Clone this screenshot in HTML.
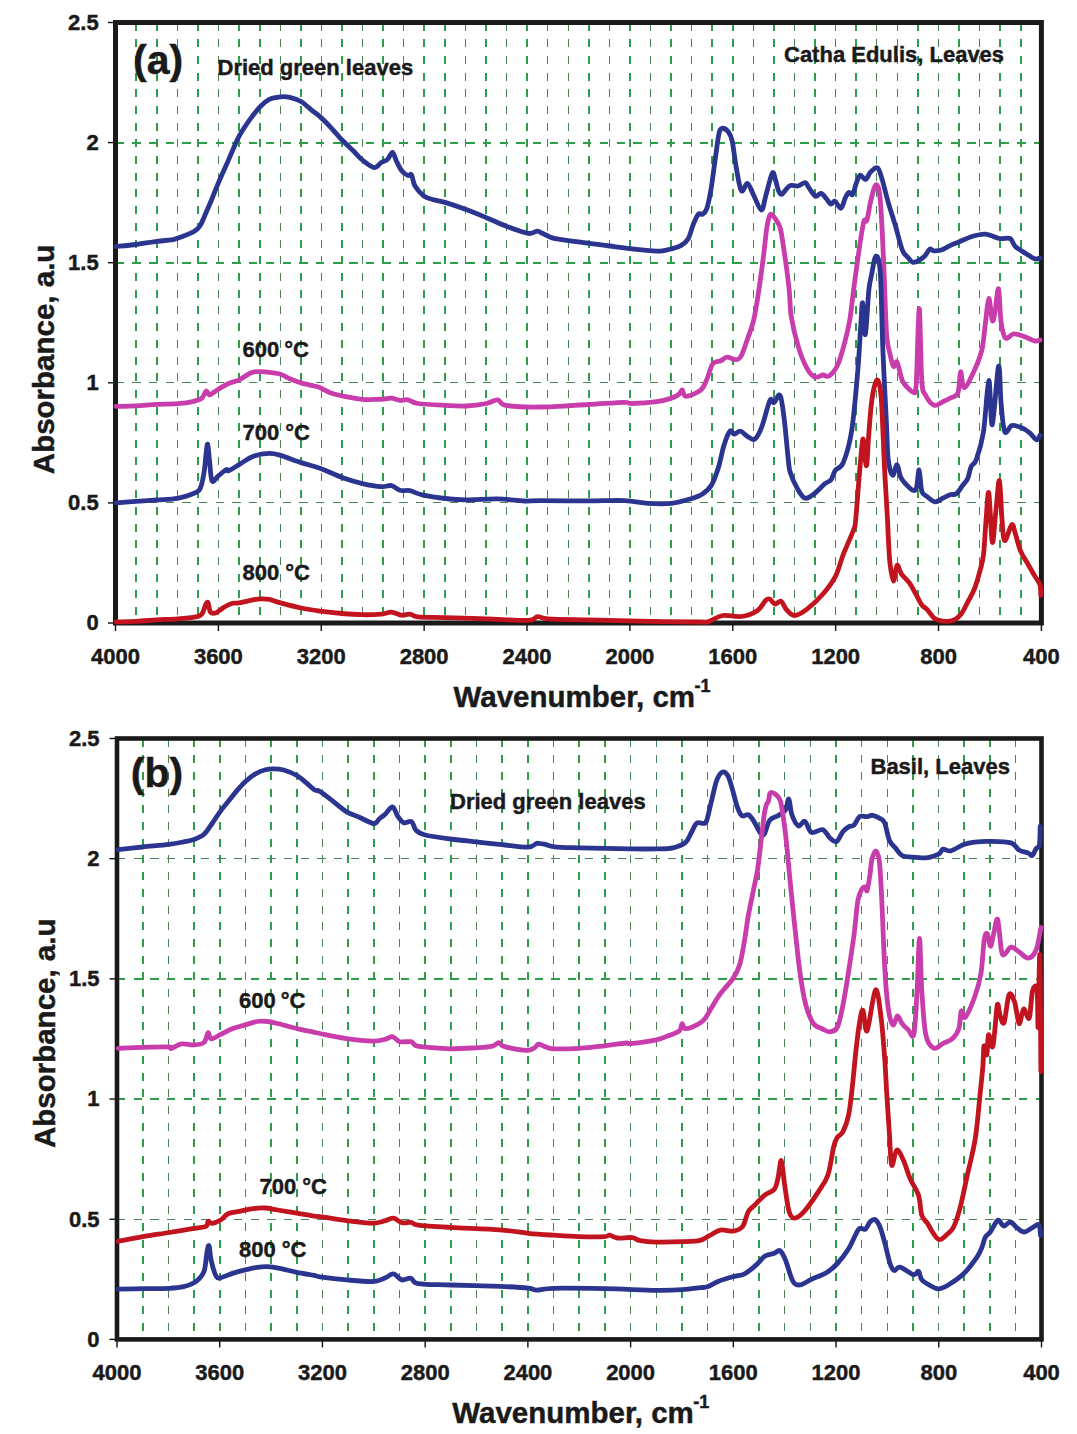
<!DOCTYPE html>
<html><head><meta charset="utf-8"><style>
html,body{margin:0;padding:0;background:#fff;overflow:hidden;}
svg{display:block;}
text{font-family:"Liberation Sans", sans-serif;font-weight:bold;fill:#1a1a1a;stroke:#1a1a1a;stroke-width:0.45px;}
.t{font-size:22px;}
.m{font-size:22px;}
.big{font-size:41px;}
.L{font-size:29.5px;}
</style></head><body>
<svg width="1077" height="1434" viewBox="0 0 1077 1434">
<line x1="136" y1="22.50" x2="136" y2="623.00" stroke="#2e9e4c" stroke-width="2" stroke-dasharray="8 8.7" shape-rendering="crispEdges"/>
<line x1="157" y1="22.50" x2="157" y2="623.00" stroke="#2e9e4c" stroke-width="2" stroke-dasharray="8 8.7" shape-rendering="crispEdges"/>
<line x1="177.5" y1="22.50" x2="177.5" y2="623.00" stroke="#4d8259" stroke-width="1" stroke-dasharray="8 8.7" shape-rendering="crispEdges"/>
<line x1="198" y1="22.50" x2="198" y2="623.00" stroke="#2e9e4c" stroke-width="2" stroke-dasharray="8 8.7" shape-rendering="crispEdges"/>
<line x1="218.5" y1="22.50" x2="218.5" y2="623.00" stroke="#4d8259" stroke-width="1" stroke-dasharray="8 8.7" shape-rendering="crispEdges"/>
<line x1="239" y1="22.50" x2="239" y2="623.00" stroke="#2e9e4c" stroke-width="2" stroke-dasharray="8 8.7" shape-rendering="crispEdges"/>
<line x1="260" y1="22.50" x2="260" y2="623.00" stroke="#2e9e4c" stroke-width="2" stroke-dasharray="8 8.7" shape-rendering="crispEdges"/>
<line x1="280.5" y1="22.50" x2="280.5" y2="623.00" stroke="#4d8259" stroke-width="1" stroke-dasharray="8 8.7" shape-rendering="crispEdges"/>
<line x1="301" y1="22.50" x2="301" y2="623.00" stroke="#2e9e4c" stroke-width="2" stroke-dasharray="8 8.7" shape-rendering="crispEdges"/>
<line x1="321.5" y1="22.50" x2="321.5" y2="623.00" stroke="#4d8259" stroke-width="1" stroke-dasharray="8 8.7" shape-rendering="crispEdges"/>
<line x1="342" y1="22.50" x2="342" y2="623.00" stroke="#2e9e4c" stroke-width="2" stroke-dasharray="8 8.7" shape-rendering="crispEdges"/>
<line x1="362.5" y1="22.50" x2="362.5" y2="623.00" stroke="#4d8259" stroke-width="1" stroke-dasharray="8 8.7" shape-rendering="crispEdges"/>
<line x1="383" y1="22.50" x2="383" y2="623.00" stroke="#2e9e4c" stroke-width="2" stroke-dasharray="8 8.7" shape-rendering="crispEdges"/>
<line x1="403.5" y1="22.50" x2="403.5" y2="623.00" stroke="#4d8259" stroke-width="1" stroke-dasharray="8 8.7" shape-rendering="crispEdges"/>
<line x1="424" y1="22.50" x2="424" y2="623.00" stroke="#2e9e4c" stroke-width="2" stroke-dasharray="8 8.7" shape-rendering="crispEdges"/>
<line x1="445" y1="22.50" x2="445" y2="623.00" stroke="#2e9e4c" stroke-width="2" stroke-dasharray="8 8.7" shape-rendering="crispEdges"/>
<line x1="465.5" y1="22.50" x2="465.5" y2="623.00" stroke="#4d8259" stroke-width="1" stroke-dasharray="8 8.7" shape-rendering="crispEdges"/>
<line x1="486" y1="22.50" x2="486" y2="623.00" stroke="#2e9e4c" stroke-width="2" stroke-dasharray="8 8.7" shape-rendering="crispEdges"/>
<line x1="506.5" y1="22.50" x2="506.5" y2="623.00" stroke="#4d8259" stroke-width="1" stroke-dasharray="8 8.7" shape-rendering="crispEdges"/>
<line x1="527" y1="22.50" x2="527" y2="623.00" stroke="#2e9e4c" stroke-width="2" stroke-dasharray="8 8.7" shape-rendering="crispEdges"/>
<line x1="547.5" y1="22.50" x2="547.5" y2="623.00" stroke="#4d8259" stroke-width="1" stroke-dasharray="8 8.7" shape-rendering="crispEdges"/>
<line x1="568.5" y1="22.50" x2="568.5" y2="623.00" stroke="#4d8259" stroke-width="1" stroke-dasharray="8 8.7" shape-rendering="crispEdges"/>
<line x1="589" y1="22.50" x2="589" y2="623.00" stroke="#2e9e4c" stroke-width="2" stroke-dasharray="8 8.7" shape-rendering="crispEdges"/>
<line x1="609.5" y1="22.50" x2="609.5" y2="623.00" stroke="#4d8259" stroke-width="1" stroke-dasharray="8 8.7" shape-rendering="crispEdges"/>
<line x1="630" y1="22.50" x2="630" y2="623.00" stroke="#2e9e4c" stroke-width="2" stroke-dasharray="8 8.7" shape-rendering="crispEdges"/>
<line x1="650.5" y1="22.50" x2="650.5" y2="623.00" stroke="#4d8259" stroke-width="1" stroke-dasharray="8 8.7" shape-rendering="crispEdges"/>
<line x1="671" y1="22.50" x2="671" y2="623.00" stroke="#2e9e4c" stroke-width="2" stroke-dasharray="8 8.7" shape-rendering="crispEdges"/>
<line x1="691.5" y1="22.50" x2="691.5" y2="623.00" stroke="#4d8259" stroke-width="1" stroke-dasharray="8 8.7" shape-rendering="crispEdges"/>
<line x1="712" y1="22.50" x2="712" y2="623.00" stroke="#2e9e4c" stroke-width="2" stroke-dasharray="8 8.7" shape-rendering="crispEdges"/>
<line x1="733" y1="22.50" x2="733" y2="623.00" stroke="#2e9e4c" stroke-width="2" stroke-dasharray="8 8.7" shape-rendering="crispEdges"/>
<line x1="753.5" y1="22.50" x2="753.5" y2="623.00" stroke="#4d8259" stroke-width="1" stroke-dasharray="8 8.7" shape-rendering="crispEdges"/>
<line x1="774" y1="22.50" x2="774" y2="623.00" stroke="#2e9e4c" stroke-width="2" stroke-dasharray="8 8.7" shape-rendering="crispEdges"/>
<line x1="794.5" y1="22.50" x2="794.5" y2="623.00" stroke="#4d8259" stroke-width="1" stroke-dasharray="8 8.7" shape-rendering="crispEdges"/>
<line x1="815" y1="22.50" x2="815" y2="623.00" stroke="#2e9e4c" stroke-width="2" stroke-dasharray="8 8.7" shape-rendering="crispEdges"/>
<line x1="835.5" y1="22.50" x2="835.5" y2="623.00" stroke="#4d8259" stroke-width="1" stroke-dasharray="8 8.7" shape-rendering="crispEdges"/>
<line x1="856" y1="22.50" x2="856" y2="623.00" stroke="#2e9e4c" stroke-width="2" stroke-dasharray="8 8.7" shape-rendering="crispEdges"/>
<line x1="876.5" y1="22.50" x2="876.5" y2="623.00" stroke="#4d8259" stroke-width="1" stroke-dasharray="8 8.7" shape-rendering="crispEdges"/>
<line x1="897.5" y1="22.50" x2="897.5" y2="623.00" stroke="#4d8259" stroke-width="1" stroke-dasharray="8 8.7" shape-rendering="crispEdges"/>
<line x1="918" y1="22.50" x2="918" y2="623.00" stroke="#2e9e4c" stroke-width="2" stroke-dasharray="8 8.7" shape-rendering="crispEdges"/>
<line x1="938.5" y1="22.50" x2="938.5" y2="623.00" stroke="#4d8259" stroke-width="1" stroke-dasharray="8 8.7" shape-rendering="crispEdges"/>
<line x1="959" y1="22.50" x2="959" y2="623.00" stroke="#2e9e4c" stroke-width="2" stroke-dasharray="8 8.7" shape-rendering="crispEdges"/>
<line x1="979.5" y1="22.50" x2="979.5" y2="623.00" stroke="#4d8259" stroke-width="1" stroke-dasharray="8 8.7" shape-rendering="crispEdges"/>
<line x1="1000" y1="22.50" x2="1000" y2="623.00" stroke="#2e9e4c" stroke-width="2" stroke-dasharray="8 8.7" shape-rendering="crispEdges"/>
<line x1="1021" y1="22.50" x2="1021" y2="623.00" stroke="#2e9e4c" stroke-width="2" stroke-dasharray="8 8.7" shape-rendering="crispEdges"/>
<line x1="115.50" y1="502.5" x2="1041.40" y2="502.5" stroke="#4d8259" stroke-width="1" stroke-dasharray="8.3 8.4" shape-rendering="crispEdges"/>
<line x1="115.50" y1="382.5" x2="1041.40" y2="382.5" stroke="#4d8259" stroke-width="1" stroke-dasharray="8.3 8.4" shape-rendering="crispEdges"/>
<line x1="115.50" y1="263" x2="1041.40" y2="263" stroke="#2e9e4c" stroke-width="2" stroke-dasharray="8.3 8.4" shape-rendering="crispEdges"/>
<line x1="115.50" y1="143" x2="1041.40" y2="143" stroke="#2e9e4c" stroke-width="2" stroke-dasharray="8.3 8.4" shape-rendering="crispEdges"/>
<line x1="108.00" y1="623.00" x2="115.50" y2="623.00" stroke="#111" stroke-width="1.4"/>
<text x="98.7" y="630.40" text-anchor="end" class="t">0</text>
<line x1="108.00" y1="502.90" x2="115.50" y2="502.90" stroke="#111" stroke-width="1.4"/>
<text x="98.7" y="510.30" text-anchor="end" class="t">0.5</text>
<line x1="108.00" y1="382.80" x2="115.50" y2="382.80" stroke="#111" stroke-width="1.4"/>
<text x="98.7" y="390.20" text-anchor="end" class="t">1</text>
<line x1="108.00" y1="262.70" x2="115.50" y2="262.70" stroke="#111" stroke-width="1.4"/>
<text x="98.7" y="270.10" text-anchor="end" class="t">1.5</text>
<line x1="108.00" y1="142.60" x2="115.50" y2="142.60" stroke="#111" stroke-width="1.4"/>
<text x="98.7" y="150.00" text-anchor="end" class="t">2</text>
<line x1="108.00" y1="22.50" x2="115.50" y2="22.50" stroke="#111" stroke-width="1.4"/>
<text x="98.7" y="29.90" text-anchor="end" class="t">2.5</text>
<line x1="115.50" y1="623.00" x2="115.50" y2="631.00" stroke="#111" stroke-width="1.4"/>
<text x="115.50" y="663.80" text-anchor="middle" class="t">4000</text>
<line x1="218.38" y1="623.00" x2="218.38" y2="631.00" stroke="#111" stroke-width="1.4"/>
<text x="218.38" y="663.80" text-anchor="middle" class="t">3600</text>
<line x1="321.26" y1="623.00" x2="321.26" y2="631.00" stroke="#111" stroke-width="1.4"/>
<text x="321.26" y="663.80" text-anchor="middle" class="t">3200</text>
<line x1="424.13" y1="623.00" x2="424.13" y2="631.00" stroke="#111" stroke-width="1.4"/>
<text x="424.13" y="663.80" text-anchor="middle" class="t">2800</text>
<line x1="527.01" y1="623.00" x2="527.01" y2="631.00" stroke="#111" stroke-width="1.4"/>
<text x="527.01" y="663.80" text-anchor="middle" class="t">2400</text>
<line x1="629.89" y1="623.00" x2="629.89" y2="631.00" stroke="#111" stroke-width="1.4"/>
<text x="629.89" y="663.80" text-anchor="middle" class="t">2000</text>
<line x1="732.77" y1="623.00" x2="732.77" y2="631.00" stroke="#111" stroke-width="1.4"/>
<text x="732.77" y="663.80" text-anchor="middle" class="t">1600</text>
<line x1="835.64" y1="623.00" x2="835.64" y2="631.00" stroke="#111" stroke-width="1.4"/>
<text x="835.64" y="663.80" text-anchor="middle" class="t">1200</text>
<line x1="938.52" y1="623.00" x2="938.52" y2="631.00" stroke="#111" stroke-width="1.4"/>
<text x="938.52" y="663.80" text-anchor="middle" class="t">800</text>
<line x1="1041.40" y1="623.00" x2="1041.40" y2="631.00" stroke="#111" stroke-width="1.4"/>
<text x="1041.40" y="663.80" text-anchor="middle" class="t">400</text>
<line x1="143" y1="738.50" x2="143" y2="1339.40" stroke="#2e9e4c" stroke-width="2" stroke-dasharray="8 8.7" shape-rendering="crispEdges"/>
<line x1="168.5" y1="738.50" x2="168.5" y2="1339.40" stroke="#4d8259" stroke-width="1" stroke-dasharray="8 8.7" shape-rendering="crispEdges"/>
<line x1="194" y1="738.50" x2="194" y2="1339.40" stroke="#2e9e4c" stroke-width="2" stroke-dasharray="8 8.7" shape-rendering="crispEdges"/>
<line x1="220" y1="738.50" x2="220" y2="1339.40" stroke="#2e9e4c" stroke-width="2" stroke-dasharray="8 8.7" shape-rendering="crispEdges"/>
<line x1="245.5" y1="738.50" x2="245.5" y2="1339.40" stroke="#4d8259" stroke-width="1" stroke-dasharray="8 8.7" shape-rendering="crispEdges"/>
<line x1="271" y1="738.50" x2="271" y2="1339.40" stroke="#2e9e4c" stroke-width="2" stroke-dasharray="8 8.7" shape-rendering="crispEdges"/>
<line x1="297" y1="738.50" x2="297" y2="1339.40" stroke="#2e9e4c" stroke-width="2" stroke-dasharray="8 8.7" shape-rendering="crispEdges"/>
<line x1="322.5" y1="738.50" x2="322.5" y2="1339.40" stroke="#4d8259" stroke-width="1" stroke-dasharray="8 8.7" shape-rendering="crispEdges"/>
<line x1="348" y1="738.50" x2="348" y2="1339.40" stroke="#2e9e4c" stroke-width="2" stroke-dasharray="8 8.7" shape-rendering="crispEdges"/>
<line x1="374" y1="738.50" x2="374" y2="1339.40" stroke="#2e9e4c" stroke-width="2" stroke-dasharray="8 8.7" shape-rendering="crispEdges"/>
<line x1="399.5" y1="738.50" x2="399.5" y2="1339.40" stroke="#4d8259" stroke-width="1" stroke-dasharray="8 8.7" shape-rendering="crispEdges"/>
<line x1="425" y1="738.50" x2="425" y2="1339.40" stroke="#2e9e4c" stroke-width="2" stroke-dasharray="8 8.7" shape-rendering="crispEdges"/>
<line x1="451" y1="738.50" x2="451" y2="1339.40" stroke="#2e9e4c" stroke-width="2" stroke-dasharray="8 8.7" shape-rendering="crispEdges"/>
<line x1="476.5" y1="738.50" x2="476.5" y2="1339.40" stroke="#4d8259" stroke-width="1" stroke-dasharray="8 8.7" shape-rendering="crispEdges"/>
<line x1="502" y1="738.50" x2="502" y2="1339.40" stroke="#2e9e4c" stroke-width="2" stroke-dasharray="8 8.7" shape-rendering="crispEdges"/>
<line x1="528" y1="738.50" x2="528" y2="1339.40" stroke="#2e9e4c" stroke-width="2" stroke-dasharray="8 8.7" shape-rendering="crispEdges"/>
<line x1="553.5" y1="738.50" x2="553.5" y2="1339.40" stroke="#4d8259" stroke-width="1" stroke-dasharray="8 8.7" shape-rendering="crispEdges"/>
<line x1="579" y1="738.50" x2="579" y2="1339.40" stroke="#2e9e4c" stroke-width="2" stroke-dasharray="8 8.7" shape-rendering="crispEdges"/>
<line x1="605" y1="738.50" x2="605" y2="1339.40" stroke="#2e9e4c" stroke-width="2" stroke-dasharray="8 8.7" shape-rendering="crispEdges"/>
<line x1="630.5" y1="738.50" x2="630.5" y2="1339.40" stroke="#4d8259" stroke-width="1" stroke-dasharray="8 8.7" shape-rendering="crispEdges"/>
<line x1="656.5" y1="738.50" x2="656.5" y2="1339.40" stroke="#4d8259" stroke-width="1" stroke-dasharray="8 8.7" shape-rendering="crispEdges"/>
<line x1="682" y1="738.50" x2="682" y2="1339.40" stroke="#2e9e4c" stroke-width="2" stroke-dasharray="8 8.7" shape-rendering="crispEdges"/>
<line x1="707.5" y1="738.50" x2="707.5" y2="1339.40" stroke="#4d8259" stroke-width="1" stroke-dasharray="8 8.7" shape-rendering="crispEdges"/>
<line x1="733.5" y1="738.50" x2="733.5" y2="1339.40" stroke="#4d8259" stroke-width="1" stroke-dasharray="8 8.7" shape-rendering="crispEdges"/>
<line x1="759" y1="738.50" x2="759" y2="1339.40" stroke="#2e9e4c" stroke-width="2" stroke-dasharray="8 8.7" shape-rendering="crispEdges"/>
<line x1="784.5" y1="738.50" x2="784.5" y2="1339.40" stroke="#4d8259" stroke-width="1" stroke-dasharray="8 8.7" shape-rendering="crispEdges"/>
<line x1="810.5" y1="738.50" x2="810.5" y2="1339.40" stroke="#4d8259" stroke-width="1" stroke-dasharray="8 8.7" shape-rendering="crispEdges"/>
<line x1="836" y1="738.50" x2="836" y2="1339.40" stroke="#2e9e4c" stroke-width="2" stroke-dasharray="8 8.7" shape-rendering="crispEdges"/>
<line x1="861.5" y1="738.50" x2="861.5" y2="1339.40" stroke="#4d8259" stroke-width="1" stroke-dasharray="8 8.7" shape-rendering="crispEdges"/>
<line x1="887.5" y1="738.50" x2="887.5" y2="1339.40" stroke="#4d8259" stroke-width="1" stroke-dasharray="8 8.7" shape-rendering="crispEdges"/>
<line x1="913" y1="738.50" x2="913" y2="1339.40" stroke="#2e9e4c" stroke-width="2" stroke-dasharray="8 8.7" shape-rendering="crispEdges"/>
<line x1="938.5" y1="738.50" x2="938.5" y2="1339.40" stroke="#4d8259" stroke-width="1" stroke-dasharray="8 8.7" shape-rendering="crispEdges"/>
<line x1="964" y1="738.50" x2="964" y2="1339.40" stroke="#2e9e4c" stroke-width="2" stroke-dasharray="8 8.7" shape-rendering="crispEdges"/>
<line x1="990" y1="738.50" x2="990" y2="1339.40" stroke="#2e9e4c" stroke-width="2" stroke-dasharray="8 8.7" shape-rendering="crispEdges"/>
<line x1="1015.5" y1="738.50" x2="1015.5" y2="1339.40" stroke="#4d8259" stroke-width="1" stroke-dasharray="8 8.7" shape-rendering="crispEdges"/>
<line x1="117.00" y1="1219.5" x2="1041.50" y2="1219.5" stroke="#4d8259" stroke-width="1" stroke-dasharray="8.3 8.4" shape-rendering="crispEdges"/>
<line x1="117.00" y1="1099" x2="1041.50" y2="1099" stroke="#2e9e4c" stroke-width="2" stroke-dasharray="8.3 8.4" shape-rendering="crispEdges"/>
<line x1="117.00" y1="979" x2="1041.50" y2="979" stroke="#2e9e4c" stroke-width="2" stroke-dasharray="8.3 8.4" shape-rendering="crispEdges"/>
<line x1="117.00" y1="858.5" x2="1041.50" y2="858.5" stroke="#4d8259" stroke-width="1" stroke-dasharray="8.3 8.4" shape-rendering="crispEdges"/>
<line x1="109.50" y1="1339.40" x2="117.00" y2="1339.40" stroke="#111" stroke-width="1.4"/>
<text x="99.5" y="1346.80" text-anchor="end" class="t">0</text>
<line x1="109.50" y1="1219.22" x2="117.00" y2="1219.22" stroke="#111" stroke-width="1.4"/>
<text x="99.5" y="1226.62" text-anchor="end" class="t">0.5</text>
<line x1="109.50" y1="1099.04" x2="117.00" y2="1099.04" stroke="#111" stroke-width="1.4"/>
<text x="99.5" y="1106.44" text-anchor="end" class="t">1</text>
<line x1="109.50" y1="978.86" x2="117.00" y2="978.86" stroke="#111" stroke-width="1.4"/>
<text x="99.5" y="986.26" text-anchor="end" class="t">1.5</text>
<line x1="109.50" y1="858.68" x2="117.00" y2="858.68" stroke="#111" stroke-width="1.4"/>
<text x="99.5" y="866.08" text-anchor="end" class="t">2</text>
<line x1="109.50" y1="738.50" x2="117.00" y2="738.50" stroke="#111" stroke-width="1.4"/>
<text x="99.5" y="745.90" text-anchor="end" class="t">2.5</text>
<line x1="117.00" y1="1339.40" x2="117.00" y2="1347.40" stroke="#111" stroke-width="1.4"/>
<text x="117.00" y="1380.20" text-anchor="middle" class="t">4000</text>
<line x1="219.72" y1="1339.40" x2="219.72" y2="1347.40" stroke="#111" stroke-width="1.4"/>
<text x="219.72" y="1380.20" text-anchor="middle" class="t">3600</text>
<line x1="322.44" y1="1339.40" x2="322.44" y2="1347.40" stroke="#111" stroke-width="1.4"/>
<text x="322.44" y="1380.20" text-anchor="middle" class="t">3200</text>
<line x1="425.17" y1="1339.40" x2="425.17" y2="1347.40" stroke="#111" stroke-width="1.4"/>
<text x="425.17" y="1380.20" text-anchor="middle" class="t">2800</text>
<line x1="527.89" y1="1339.40" x2="527.89" y2="1347.40" stroke="#111" stroke-width="1.4"/>
<text x="527.89" y="1380.20" text-anchor="middle" class="t">2400</text>
<line x1="630.61" y1="1339.40" x2="630.61" y2="1347.40" stroke="#111" stroke-width="1.4"/>
<text x="630.61" y="1380.20" text-anchor="middle" class="t">2000</text>
<line x1="733.33" y1="1339.40" x2="733.33" y2="1347.40" stroke="#111" stroke-width="1.4"/>
<text x="733.33" y="1380.20" text-anchor="middle" class="t">1600</text>
<line x1="836.06" y1="1339.40" x2="836.06" y2="1347.40" stroke="#111" stroke-width="1.4"/>
<text x="836.06" y="1380.20" text-anchor="middle" class="t">1200</text>
<line x1="938.78" y1="1339.40" x2="938.78" y2="1347.40" stroke="#111" stroke-width="1.4"/>
<text x="938.78" y="1380.20" text-anchor="middle" class="t">800</text>
<line x1="1041.50" y1="1339.40" x2="1041.50" y2="1347.40" stroke="#111" stroke-width="1.4"/>
<text x="1041.50" y="1380.20" text-anchor="middle" class="t">400</text>
<rect x="115.50" y="22.50" width="925.90" height="600.50" fill="none" stroke="#1a1a1a" stroke-width="5.0"/>
<rect x="117.00" y="738.50" width="924.50" height="600.90" fill="none" stroke="#1a1a1a" stroke-width="4.6"/>
<path d="M116.00,246.50 C119.35,246.17 129.27,245.35 136.10,244.50 C142.93,243.65 151.13,242.18 157.00,241.40 C162.87,240.62 167.90,240.32 171.30,239.80 C174.70,239.28 173.65,239.67 177.40,238.30 C181.15,236.93 190.05,233.65 193.80,231.60 C197.55,229.55 197.87,229.13 199.90,226.00 C201.93,222.87 203.97,217.38 206.00,212.80 C208.03,208.22 209.98,203.62 212.10,198.50 C214.22,193.38 216.32,187.72 218.70,182.10 C221.08,176.48 224.08,170.07 226.40,164.80 C228.72,159.53 230.48,155.27 232.60,150.50 C234.72,145.73 236.38,141.13 239.10,136.20 C241.82,131.27 245.38,125.83 248.90,120.90 C252.42,115.97 256.80,110.18 260.20,106.60 C263.60,103.02 265.90,101.03 269.30,99.40 C272.70,97.77 277.18,97.13 280.60,96.80 C284.02,96.47 286.40,96.62 289.80,97.40 C293.20,98.18 297.27,99.30 301.00,101.50 C304.73,103.70 309.03,108.08 312.20,110.60 C315.37,113.12 317.00,113.90 320.00,116.60 C323.00,119.30 326.52,122.90 330.20,126.80 C333.88,130.70 338.35,136.08 342.10,140.00 C345.85,143.92 349.23,146.88 352.70,150.30 C356.17,153.72 359.33,157.62 362.90,160.50 C366.47,163.38 371.03,167.27 374.10,167.60 C377.17,167.93 379.08,163.85 381.30,162.50 C383.52,161.15 385.53,161.20 387.40,159.50 C389.27,157.80 390.97,151.97 392.50,152.30 C394.03,152.63 395.07,158.43 396.60,161.50 C398.13,164.57 399.83,168.38 401.70,170.70 C403.57,173.02 406.17,174.72 407.80,175.40 C409.43,176.08 410.30,173.03 411.50,174.80 C412.70,176.57 412.88,182.43 415.00,186.00 C417.12,189.57 420.97,193.88 424.20,196.20 C427.43,198.52 430.93,198.87 434.40,199.90 C437.87,200.93 439.72,200.80 445.00,202.40 C450.28,204.00 459.18,206.95 466.10,209.50 C473.02,212.05 479.70,214.87 486.50,217.70 C493.30,220.53 499.92,223.88 506.90,226.50 C513.88,229.12 523.35,232.63 528.40,233.40 C533.45,234.17 534.88,231.12 537.20,231.10 C539.52,231.08 540.60,232.52 542.30,233.30 C544.00,234.08 545.02,234.88 547.40,235.80 C549.78,236.72 549.63,237.55 556.60,238.80 C563.57,240.05 580.35,242.10 589.20,243.30 C598.05,244.50 602.88,245.12 609.70,246.00 C616.52,246.88 623.30,247.82 630.10,248.60 C636.90,249.38 645.40,250.28 650.50,250.70 C655.60,251.12 657.28,251.38 660.70,251.10 C664.12,250.82 667.58,249.95 671.00,249.00 C674.42,248.05 678.33,247.12 681.20,245.40 C684.07,243.68 686.18,242.20 688.20,238.70 C690.22,235.20 691.60,228.48 693.30,224.40 C695.00,220.32 696.87,215.90 698.40,214.20 C699.93,212.50 701.13,215.05 702.50,214.20 C703.87,213.35 705.25,212.85 706.60,209.10 C707.95,205.35 709.25,199.37 710.60,191.70 C711.95,184.03 713.33,172.63 714.70,163.10 C716.07,153.57 717.60,140.28 718.80,134.50 C720.00,128.72 720.37,128.90 721.90,128.40 C723.43,127.90 726.30,129.47 728.00,131.50 C729.70,133.53 730.73,134.65 732.10,140.60 C733.47,146.55 734.67,158.85 736.20,167.20 C737.73,175.55 739.43,187.98 741.30,190.70 C743.17,193.42 745.37,182.82 747.40,183.50 C749.43,184.18 751.18,190.37 753.50,194.80 C755.82,199.23 759.25,209.93 761.30,210.10 C763.35,210.27 763.97,201.98 765.80,195.80 C767.63,189.62 770.67,175.57 772.30,173.00 C773.93,170.43 774.58,177.47 775.60,180.40 C776.62,183.33 777.40,188.27 778.40,190.60 C779.40,192.93 780.37,194.55 781.60,194.40 C782.83,194.25 784.33,191.18 785.80,189.70 C787.27,188.22 788.38,186.12 790.40,185.50 C792.42,184.88 795.42,186.47 797.90,186.00 C800.38,185.53 803.45,182.38 805.30,182.70 C807.15,183.02 807.30,185.65 809.00,187.90 C810.70,190.15 813.48,195.28 815.50,196.20 C817.52,197.12 819.25,192.93 821.10,193.40 C822.95,193.87 824.98,197.22 826.60,199.00 C828.22,200.78 829.40,203.72 830.80,204.10 C832.20,204.48 833.30,200.60 835.00,201.30 C836.70,202.00 839.30,208.83 841.00,208.30 C842.70,207.77 843.88,200.73 845.20,198.10 C846.52,195.47 847.67,193.12 848.90,192.50 C850.13,191.88 851.37,195.95 852.60,194.40 C853.83,192.85 855.05,186.38 856.30,183.20 C857.55,180.02 858.55,175.92 860.10,175.30 C861.65,174.68 863.85,180.05 865.60,179.50 C867.35,178.95 868.60,173.93 870.60,172.00 C872.60,170.07 875.68,166.67 877.60,167.90 C879.52,169.13 880.33,173.67 882.10,179.40 C883.87,185.13 886.00,194.65 888.20,202.30 C890.40,209.95 892.95,217.35 895.30,225.30 C897.65,233.25 900.25,244.72 902.30,250.00 C904.35,255.28 905.83,254.95 907.60,257.00 C909.37,259.05 910.83,261.85 912.90,262.30 C914.97,262.75 917.93,260.87 920.00,259.70 C922.07,258.53 923.68,257.07 925.30,255.30 C926.92,253.53 928.23,249.83 929.70,249.10 C931.17,248.37 932.18,250.75 934.10,250.90 C936.02,251.05 938.55,250.88 941.20,250.00 C943.85,249.12 947.07,246.93 950.00,245.60 C952.93,244.27 955.27,243.48 958.80,242.00 C962.33,240.52 966.78,238.02 971.20,236.70 C975.62,235.38 980.60,233.80 985.30,234.10 C990.00,234.40 995.28,237.77 999.40,238.50 C1003.52,239.23 1007.35,237.18 1010.00,238.50 C1012.65,239.82 1012.67,243.90 1015.30,246.40 C1017.93,248.90 1022.57,251.43 1025.80,253.50 C1029.03,255.57 1032.33,258.07 1034.70,258.80 C1037.07,259.53 1039.12,258.05 1040.00,257.90" fill="none" stroke="#2b3590" stroke-width="4.8" stroke-linejoin="round" stroke-linecap="round"/>
<path d="M116.10,406.40 C119.43,406.30 129.28,406.13 136.10,405.80 C142.92,405.47 150.12,404.75 157.00,404.40 C163.88,404.05 171.27,404.22 177.40,403.70 C183.53,403.18 189.72,402.22 193.80,401.30 C197.88,400.38 199.87,399.90 201.90,398.20 C203.93,396.50 204.80,391.68 206.00,391.10 C207.20,390.52 208.08,394.30 209.10,394.70 C210.12,395.10 210.50,394.45 212.10,393.50 C213.70,392.55 215.97,390.67 218.70,389.00 C221.43,387.33 225.10,385.03 228.50,383.50 C231.90,381.97 235.35,381.60 239.10,379.80 C242.85,378.00 247.48,374.05 251.00,372.70 C254.52,371.35 256.80,371.70 260.20,371.70 C263.60,371.70 268.00,372.27 271.40,372.70 C274.80,373.13 277.53,373.28 280.60,374.30 C283.67,375.32 286.40,377.37 289.80,378.80 C293.20,380.23 296.92,381.70 301.00,382.90 C305.08,384.10 311.13,385.22 314.30,386.00 C317.47,386.78 317.35,386.48 320.00,387.60 C322.65,388.72 326.52,391.33 330.20,392.70 C333.88,394.07 336.72,394.68 342.10,395.80 C347.48,396.92 357.33,398.80 362.50,399.40 C367.67,400.00 369.63,399.43 373.10,399.40 C376.57,399.37 380.23,399.40 383.30,399.20 C386.37,399.00 388.77,398.00 391.50,398.20 C394.23,398.40 396.98,400.13 399.70,400.40 C402.42,400.67 404.75,399.28 407.80,399.80 C410.85,400.32 411.80,402.57 418.00,403.50 C424.20,404.43 436.98,404.98 445.00,405.40 C453.02,405.82 459.18,406.32 466.10,406.00 C473.02,405.68 481.23,404.53 486.50,403.50 C491.77,402.47 494.47,399.48 497.70,399.80 C500.93,400.12 498.85,404.20 505.90,405.40 C512.95,406.60 526.32,407.15 540.00,407.00 C553.68,406.85 573.95,405.28 588.00,404.50 C602.05,403.72 617.05,402.47 624.30,402.30 C631.55,402.13 626.07,403.60 631.50,403.50 C636.93,403.40 650.25,402.60 656.90,401.70 C663.55,400.80 667.77,399.30 671.40,398.10 C675.03,396.90 676.88,395.87 678.70,394.50 C680.52,393.13 681.10,389.58 682.30,389.90 C683.50,390.22 682.88,396.33 685.90,396.40 C688.92,396.47 696.95,393.02 700.40,390.30 C703.85,387.58 704.55,384.52 706.60,380.10 C708.65,375.68 710.32,367.03 712.70,363.80 C715.08,360.57 718.52,361.80 720.90,360.70 C723.28,359.60 724.45,357.37 727.00,357.20 C729.55,357.03 733.82,359.97 736.20,359.70 C738.58,359.43 739.43,359.02 741.30,355.60 C743.17,352.18 745.37,344.98 747.40,339.20 C749.43,333.42 751.77,327.93 753.50,320.90 C755.23,313.87 756.15,307.65 757.80,297.00 C759.45,286.35 761.90,268.50 763.40,257.00 C764.90,245.50 765.72,234.97 766.80,228.00 C767.88,221.03 768.87,217.23 769.90,215.20 C770.93,213.17 771.82,214.75 773.00,215.80 C774.18,216.85 775.75,219.30 777.00,221.50 C778.25,223.70 779.17,223.08 780.50,229.00 C781.83,234.92 783.55,246.83 785.00,257.00 C786.45,267.17 788.15,280.03 789.20,290.00 C790.25,299.97 789.75,307.23 791.30,316.80 C792.85,326.37 795.93,338.90 798.50,347.40 C801.07,355.90 803.98,362.87 806.70,367.80 C809.42,372.73 812.08,375.80 814.80,377.00 C817.52,378.20 820.62,375.17 823.00,375.00 C825.38,374.83 826.72,377.53 829.10,376.00 C831.48,374.47 834.92,370.57 837.30,365.80 C839.68,361.03 841.35,354.88 843.40,347.40 C845.45,339.92 847.90,330.50 849.60,320.90 C851.30,311.30 851.90,302.48 853.60,289.80 C855.30,277.12 858.08,256.22 859.80,244.80 C861.52,233.38 862.72,225.38 863.90,221.30 C865.08,217.22 865.72,223.87 866.90,220.30 C868.08,216.73 869.47,205.85 871.00,199.90 C872.53,193.95 874.55,184.48 876.10,184.60 C877.65,184.72 879.02,187.05 880.30,200.60 C881.58,214.15 882.77,243.85 883.80,265.90 C884.83,287.95 885.47,318.20 886.50,332.90 C887.53,347.60 888.83,348.52 890.00,354.10 C891.17,359.68 892.33,365.08 893.50,366.40 C894.67,367.72 895.53,359.63 897.00,362.00 C898.47,364.37 900.53,376.33 902.30,380.60 C904.07,384.87 905.83,385.70 907.60,387.60 C909.37,389.50 911.48,392.28 912.90,392.00 C914.32,391.72 915.22,396.63 916.10,385.90 C916.98,375.17 917.62,339.95 918.20,327.60 C918.78,315.25 919.00,302.97 919.60,311.80 C920.20,320.63 920.85,366.78 921.80,380.60 C922.75,394.42 923.25,390.58 925.30,394.70 C927.35,398.82 931.17,404.13 934.10,405.30 C937.03,406.47 940.25,402.88 942.90,401.70 C945.55,400.52 947.50,399.67 950.00,398.20 C952.50,396.73 956.13,397.32 957.90,392.90 C959.67,388.48 959.57,372.58 960.60,371.70 C961.63,370.82 962.05,387.30 964.10,387.60 C966.15,387.90 969.97,379.67 972.90,373.50 C975.83,367.33 979.63,358.83 981.70,350.60 C983.77,342.37 984.12,332.78 985.30,324.10 C986.48,315.42 987.63,299.08 988.80,298.50 C989.97,297.92 991.27,318.38 992.30,320.60 C993.33,322.82 993.97,317.10 995.00,311.80 C996.03,306.50 997.48,287.05 998.50,288.80 C999.52,290.55 999.92,314.07 1001.10,322.30 C1002.28,330.53 1003.53,336.28 1005.60,338.20 C1007.67,340.12 1010.42,334.08 1013.50,333.80 C1016.58,333.52 1020.57,335.32 1024.10,336.50 C1027.63,337.68 1032.05,340.32 1034.70,340.90 C1037.35,341.48 1039.12,340.15 1040.00,340.00" fill="none" stroke="#c93cab" stroke-width="4.8" stroke-linejoin="round" stroke-linecap="round"/>
<path d="M116.10,502.80 C119.43,502.57 129.28,501.87 136.10,501.40 C142.92,500.93 150.12,500.52 157.00,500.00 C163.88,499.48 171.62,499.27 177.40,498.30 C183.18,497.33 187.95,495.73 191.70,494.20 C195.45,492.67 197.85,492.67 199.90,489.10 C201.95,485.53 202.98,478.58 204.00,472.80 C205.02,467.02 205.38,459.17 206.00,454.40 C206.62,449.63 207.08,442.83 207.70,444.20 C208.32,445.57 208.97,456.47 209.70,462.60 C210.43,468.73 210.67,478.78 212.10,481.00 C213.53,483.22 215.92,477.78 218.30,475.90 C220.68,474.02 224.70,470.57 226.40,469.70 C228.10,468.83 226.38,471.55 228.50,470.70 C230.62,469.85 235.02,466.98 239.10,464.60 C243.18,462.22 247.97,458.27 253.00,456.40 C258.03,454.53 264.70,453.57 269.30,453.40 C273.90,453.23 275.32,453.87 280.60,455.40 C285.88,456.93 294.43,460.45 301.00,462.60 C307.57,464.75 313.15,465.82 320.00,468.30 C326.85,470.78 335.02,474.95 342.10,477.50 C349.18,480.05 355.97,482.07 362.50,483.60 C369.03,485.13 376.47,486.37 381.30,486.70 C386.13,487.03 388.43,485.00 391.50,485.60 C394.57,486.20 396.63,489.45 399.70,490.30 C402.77,491.15 406.17,489.95 409.90,490.70 C413.63,491.45 416.25,493.50 422.10,494.80 C427.95,496.10 437.67,497.65 445.00,498.50 C452.33,499.35 457.32,499.83 466.10,499.90 C474.88,499.97 488.00,498.72 497.70,498.90 C507.40,499.08 517.25,500.72 524.30,501.00 C531.35,501.28 529.38,500.62 540.00,500.60 C550.62,500.58 573.95,500.90 588.00,500.90 C602.05,500.90 614.32,500.20 624.30,500.60 C634.28,501.00 640.05,502.85 647.90,503.30 C655.75,503.75 664.35,504.02 671.40,503.30 C678.45,502.58 685.02,500.57 690.20,499.00 C695.38,497.43 698.92,496.28 702.50,493.90 C706.08,491.52 708.98,489.30 711.70,484.70 C714.42,480.10 716.77,472.83 718.80,466.30 C720.83,459.77 722.03,451.35 723.90,445.50 C725.77,439.65 728.30,433.08 730.00,431.20 C731.70,429.32 732.38,434.20 734.10,434.20 C735.82,434.20 738.08,430.85 740.30,431.20 C742.52,431.55 745.02,434.95 747.40,436.30 C749.78,437.65 752.22,440.83 754.60,439.30 C756.98,437.77 759.15,433.57 761.70,427.10 C764.25,420.63 767.85,404.58 769.90,400.50 C771.95,396.42 772.30,403.45 774.00,402.60 C775.70,401.75 778.40,392.68 780.10,395.40 C781.80,398.12 782.83,408.17 784.20,418.90 C785.57,429.63 787.28,450.87 788.30,459.80 C789.32,468.73 788.77,467.67 790.30,472.50 C791.83,477.33 795.12,484.55 797.50,488.80 C799.88,493.05 802.05,496.98 804.60,498.00 C807.15,499.02 809.40,497.28 812.80,494.90 C816.20,492.52 821.93,486.25 825.00,483.70 C828.07,481.15 829.48,481.82 831.20,479.60 C832.92,477.38 833.27,473.28 835.30,470.40 C837.33,467.52 840.68,468.83 843.40,462.30 C846.12,455.77 849.22,446.27 851.60,431.20 C853.98,416.13 856.17,389.62 857.70,371.90 C859.23,354.18 859.98,336.40 860.80,324.90 C861.62,313.40 861.85,301.27 862.60,302.90 C863.35,304.53 864.27,336.75 865.30,334.70 C866.33,332.65 867.77,300.55 868.80,290.60 C869.83,280.65 870.32,280.73 871.50,275.00 C872.68,269.27 874.43,256.55 875.90,256.20 C877.37,255.85 879.13,257.17 880.30,272.90 C881.47,288.63 881.87,325.30 882.90,350.60 C883.93,375.90 885.62,406.57 886.50,424.70 C887.38,442.83 887.18,450.97 888.20,459.40 C889.22,467.83 891.13,474.42 892.60,475.30 C894.07,476.18 895.67,464.42 897.00,464.70 C898.33,464.98 899.12,473.77 900.60,477.00 C902.08,480.23 903.85,481.88 905.90,484.10 C907.95,486.32 911.13,489.72 912.90,490.30 C914.67,490.88 915.47,490.98 916.50,487.60 C917.53,484.22 918.22,469.40 919.10,470.00 C919.98,470.60 920.48,486.78 921.80,491.20 C923.12,495.62 924.80,494.73 927.00,496.50 C929.20,498.27 932.35,501.52 935.00,501.80 C937.65,502.08 940.40,499.38 942.90,498.20 C945.40,497.02 947.78,495.43 950.00,494.70 C952.22,493.97 954.15,495.27 956.20,493.80 C958.25,492.33 960.40,488.40 962.30,485.90 C964.20,483.40 966.12,482.03 967.60,478.80 C969.08,475.57 969.73,469.73 971.20,466.50 C972.67,463.27 974.35,465.20 976.40,459.40 C978.45,453.60 981.43,444.83 983.50,431.70 C985.57,418.57 987.33,381.77 988.80,380.60 C990.27,379.43 990.68,427.07 992.30,424.70 C993.92,422.33 997.03,369.93 998.50,366.40 C999.97,362.87 1000.07,392.62 1001.10,403.50 C1002.13,414.38 1002.93,428.02 1004.70,431.70 C1006.47,435.38 1009.07,426.33 1011.70,425.60 C1014.33,424.87 1017.55,426.13 1020.50,427.30 C1023.45,428.47 1026.75,430.53 1029.40,432.60 C1032.05,434.67 1034.63,439.25 1036.40,439.70 C1038.17,440.15 1039.40,436.03 1040.00,435.30" fill="none" stroke="#2b3590" stroke-width="4.8" stroke-linejoin="round" stroke-linecap="round"/>
<path d="M116.10,621.90 C119.43,621.80 129.28,621.63 136.10,621.30 C142.92,620.97 150.12,620.32 157.00,619.90 C163.88,619.48 170.93,619.32 177.40,618.80 C183.87,618.28 191.72,617.58 195.80,616.80 C199.88,616.02 200.20,616.25 201.90,614.10 C203.60,611.95 204.97,605.77 206.00,603.90 C207.03,602.03 207.35,601.53 208.10,602.90 C208.85,604.27 209.15,610.47 210.50,612.10 C211.85,613.73 213.88,613.55 216.20,612.70 C218.52,611.85 221.67,608.57 224.40,607.00 C227.13,605.43 230.15,603.98 232.60,603.30 C235.05,602.62 235.70,603.48 239.10,602.90 C242.50,602.32 249.32,600.48 253.00,599.80 C256.68,599.12 258.48,598.87 261.20,598.80 C263.92,598.73 266.07,598.72 269.30,599.40 C272.53,600.08 275.32,601.47 280.60,602.90 C285.88,604.33 294.43,606.63 301.00,608.00 C307.57,609.37 313.15,610.18 320.00,611.10 C326.85,612.02 335.02,612.90 342.10,613.50 C349.18,614.10 355.97,614.60 362.50,614.70 C369.03,614.80 376.47,614.53 381.30,614.10 C386.13,613.67 388.10,611.92 391.50,612.10 C394.90,612.28 398.63,614.87 401.70,615.20 C404.77,615.53 407.18,613.83 409.90,614.10 C412.62,614.37 412.15,616.22 418.00,616.80 C423.85,617.38 433.58,617.27 445.00,617.60 C456.42,617.93 472.60,618.35 486.50,618.80 C500.40,619.25 519.93,620.67 528.40,620.30 C536.87,619.93 534.02,616.85 537.30,616.60 C540.58,616.35 539.65,618.25 548.10,618.80 C556.55,619.35 572.88,619.52 588.00,619.90 C603.12,620.28 620.13,620.75 638.80,621.10 C657.47,621.45 688.37,621.92 700.00,622.00 C711.63,622.08 704.78,622.68 708.60,621.60 C712.42,620.52 717.45,616.35 722.90,615.50 C728.35,614.65 735.52,617.35 741.30,616.50 C747.08,615.65 753.52,613.12 757.60,610.40 C761.68,607.68 763.75,602.08 765.80,600.20 C767.85,598.32 768.37,598.43 769.90,599.10 C771.43,599.77 773.13,603.85 775.00,604.20 C776.87,604.55 779.23,600.35 781.10,601.20 C782.97,602.05 783.98,606.92 786.20,609.30 C788.42,611.68 790.98,615.50 794.40,615.50 C797.82,615.50 801.93,612.88 806.70,609.30 C811.47,605.72 818.23,599.43 823.00,594.00 C827.77,588.57 831.90,583.33 835.30,576.70 C838.70,570.07 840.35,562.03 843.40,554.20 C846.45,546.37 851.55,535.47 853.60,529.70 C855.65,523.93 854.70,529.28 855.70,519.60 C856.70,509.92 858.40,485.00 859.60,471.60 C860.80,458.20 862.00,441.47 862.90,439.20 C863.80,436.93 864.35,453.72 865.00,458.00 C865.65,462.28 866.22,468.22 866.80,464.90 C867.38,461.58 867.75,448.15 868.50,438.10 C869.25,428.05 870.28,413.33 871.30,404.60 C872.32,395.87 873.48,389.70 874.60,385.70 C875.72,381.70 876.88,378.38 878.00,380.60 C879.12,382.82 880.18,383.83 881.30,399.00 C882.42,414.17 883.67,451.50 884.70,471.60 C885.73,491.70 886.90,508.70 887.50,519.60 C888.10,530.50 887.88,529.68 888.30,537.00 C888.72,544.32 889.13,556.15 890.00,563.50 C890.87,570.85 892.33,580.80 893.50,581.10 C894.67,581.40 895.67,566.47 897.00,565.30 C898.33,564.13 899.43,571.17 901.50,574.10 C903.57,577.03 906.90,579.37 909.40,582.90 C911.90,586.43 914.43,591.62 916.50,595.30 C918.57,598.98 920.05,602.65 921.80,605.00 C923.55,607.35 924.95,607.20 927.00,609.40 C929.05,611.60 931.73,616.30 934.10,618.20 C936.47,620.10 938.27,620.37 941.20,620.80 C944.13,621.23 948.47,621.82 951.70,620.80 C954.93,619.78 957.95,617.78 960.60,614.70 C963.25,611.62 965.25,606.72 967.60,602.30 C969.95,597.88 972.63,593.48 974.70,588.20 C976.77,582.92 978.53,576.18 980.00,570.60 C981.47,565.02 982.48,563.23 983.50,554.70 C984.52,546.17 985.22,529.70 986.10,519.40 C986.98,509.10 987.77,489.08 988.80,492.90 C989.83,496.72 991.12,539.35 992.30,542.30 C993.48,545.25 994.72,520.88 995.90,510.60 C997.08,500.32 998.38,479.13 999.40,480.60 C1000.42,482.07 1001.12,509.40 1002.00,519.40 C1002.88,529.40 1003.08,539.72 1004.70,540.60 C1006.32,541.48 1009.93,525.88 1011.70,524.70 C1013.47,523.52 1013.82,529.10 1015.30,533.50 C1016.78,537.90 1018.55,546.10 1020.60,551.10 C1022.65,556.10 1025.25,559.37 1027.60,563.50 C1029.95,567.63 1032.63,572.37 1034.70,575.90 C1036.77,579.43 1038.98,581.47 1040.00,584.70 C1041.02,587.93 1040.67,593.53 1040.80,595.30" fill="none" stroke="#c1141f" stroke-width="4.8" stroke-linejoin="round" stroke-linecap="round"/>
<path d="M118.20,849.70 C122.28,849.25 134.27,847.88 142.70,847.00 C151.13,846.12 162.00,845.25 168.80,844.40 C175.60,843.55 179.33,842.72 183.50,841.90 C187.67,841.08 190.38,840.78 193.80,839.50 C197.22,838.22 200.95,836.87 204.00,834.20 C207.05,831.53 209.38,827.32 212.10,823.50 C214.82,819.68 217.57,815.03 220.30,811.30 C223.03,807.57 225.77,804.50 228.50,801.10 C231.23,797.70 233.92,794.13 236.70,790.90 C239.48,787.67 242.15,784.50 245.20,781.70 C248.25,778.90 251.65,776.08 255.00,774.10 C258.35,772.12 262.23,770.68 265.30,769.80 C268.37,768.92 270.35,768.77 273.40,768.80 C276.45,768.83 279.68,768.88 283.60,770.00 C287.52,771.12 293.15,773.38 296.90,775.50 C300.65,777.62 303.20,780.32 306.10,782.70 C309.00,785.08 311.98,788.33 314.30,789.80 C316.62,791.27 317.00,789.70 320.00,791.50 C323.00,793.30 327.87,797.20 332.30,800.60 C336.73,804.00 342.18,809.17 346.60,811.90 C351.02,814.63 354.28,815.07 358.80,817.00 C363.32,818.93 370.30,823.17 373.70,823.50 C377.10,823.83 377.25,820.60 379.20,819.00 C381.15,817.40 383.18,815.93 385.40,813.90 C387.62,811.87 390.47,806.45 392.50,806.80 C394.53,807.15 395.72,813.35 397.60,816.00 C399.48,818.65 401.48,821.78 403.80,822.70 C406.12,823.62 409.47,820.23 411.50,821.50 C413.53,822.77 413.72,828.05 416.00,830.30 C418.28,832.55 419.42,833.55 425.20,835.00 C430.98,836.45 442.18,837.85 450.70,839.00 C459.22,840.15 467.78,840.97 476.30,841.90 C484.82,842.83 493.22,843.72 501.80,844.60 C510.38,845.48 522.02,847.38 527.80,847.20 C533.58,847.02 534.77,844.15 536.50,843.50 C538.23,842.85 536.90,843.18 538.20,843.30 C539.50,843.42 541.58,843.62 544.30,844.20 C547.02,844.78 548.72,846.20 554.50,846.80 C560.28,847.40 566.33,847.45 579.00,847.80 C591.67,848.15 617.55,848.72 630.50,848.90 C643.45,849.08 649.62,849.08 656.70,848.90 C663.78,848.72 668.23,848.83 673.00,847.80 C677.77,846.77 682.23,845.25 685.30,842.70 C688.37,840.15 689.53,835.73 691.40,832.50 C693.27,829.27 694.47,824.83 696.50,823.30 C698.53,821.77 701.93,823.63 703.60,823.30 C705.27,822.97 705.25,824.73 706.50,821.30 C707.75,817.87 709.40,809.52 711.10,802.70 C712.80,795.88 714.83,785.50 716.70,780.40 C718.57,775.30 720.43,772.87 722.30,772.10 C724.17,771.33 726.20,772.87 727.90,775.80 C729.60,778.73 730.97,784.60 732.50,789.70 C734.03,794.80 735.55,802.07 737.10,806.40 C738.65,810.73 739.93,814.30 741.80,815.70 C743.67,817.10 746.28,813.87 748.30,814.80 C750.32,815.73 752.05,818.52 753.90,821.30 C755.75,824.08 757.70,829.33 759.40,831.50 C761.10,833.67 762.40,836.15 764.10,834.30 C765.80,832.45 767.28,823.50 769.60,820.40 C771.92,817.30 775.37,817.42 778.00,815.70 C780.63,813.98 783.60,812.88 785.40,810.10 C787.20,807.32 787.72,798.22 788.80,799.00 C789.88,799.78 790.30,810.32 791.90,814.80 C793.50,819.28 796.23,824.82 798.40,825.90 C800.57,826.98 802.73,820.22 804.90,821.30 C807.07,822.38 808.45,831.02 811.40,832.40 C814.35,833.78 819.50,828.67 822.60,829.60 C825.70,830.53 827.68,835.98 830.00,838.00 C832.32,840.02 834.33,842.78 836.50,841.70 C838.67,840.62 840.98,833.97 843.00,831.50 C845.02,829.03 846.75,827.98 848.60,826.90 C850.45,825.82 852.25,826.72 854.10,825.00 C855.95,823.28 857.53,818.00 859.70,816.60 C861.87,815.20 864.93,816.82 867.10,816.60 C869.27,816.38 870.53,814.98 872.70,815.30 C874.87,815.62 878.10,817.20 880.10,818.50 C882.10,819.80 883.13,819.43 884.70,823.10 C886.27,826.77 887.65,836.28 889.50,840.50 C891.35,844.72 893.70,845.90 895.80,848.40 C897.90,850.90 899.47,854.05 902.10,855.50 C904.73,856.95 907.65,856.70 911.60,857.10 C915.55,857.50 921.87,858.17 925.80,857.90 C929.73,857.63 932.83,856.30 935.20,855.50 C937.57,854.70 938.68,854.15 940.00,853.10 C941.32,852.05 941.27,849.58 943.10,849.20 C944.93,848.82 947.57,851.58 951.00,850.80 C954.43,850.02 959.75,845.95 963.70,844.50 C967.65,843.05 970.50,842.63 974.70,842.10 C978.90,841.57 982.85,841.17 988.90,841.30 C994.95,841.43 1006.00,841.45 1011.00,842.90 C1016.00,844.35 1016.00,848.30 1018.90,850.00 C1021.80,851.70 1026.17,852.18 1028.40,853.10 C1030.63,854.02 1030.98,856.28 1032.30,855.50 C1033.62,854.72 1035.12,850.12 1036.30,848.40 C1037.48,846.68 1038.75,848.88 1039.40,845.20 C1040.05,841.52 1040.07,829.45 1040.20,826.30" fill="none" stroke="#2b3590" stroke-width="4.8" stroke-linejoin="round" stroke-linecap="round"/>
<path d="M118.20,1048.40 C122.28,1048.23 134.20,1047.63 142.70,1047.40 C151.20,1047.17 164.43,1046.80 169.20,1047.00 C173.97,1047.20 169.25,1049.12 171.30,1048.60 C173.35,1048.08 177.75,1044.52 181.50,1043.90 C185.25,1043.28 190.05,1045.13 193.80,1044.90 C197.55,1044.67 201.62,1044.53 204.00,1042.50 C206.38,1040.47 206.92,1033.32 208.10,1032.70 C209.28,1032.08 209.07,1038.47 211.10,1038.80 C213.13,1039.13 216.72,1036.40 220.30,1034.70 C223.88,1033.00 228.45,1030.23 232.60,1028.60 C236.75,1026.97 241.12,1026.08 245.20,1024.90 C249.28,1023.72 253.42,1022.07 257.10,1021.50 C260.78,1020.93 263.90,1021.17 267.30,1021.50 C270.70,1021.83 272.57,1022.32 277.50,1023.50 C282.43,1024.68 290.77,1027.13 296.90,1028.60 C303.03,1030.07 310.45,1031.48 314.30,1032.30 C318.15,1033.12 314.62,1032.45 320.00,1033.50 C325.38,1034.55 337.75,1037.33 346.60,1038.60 C355.45,1039.87 366.63,1041.00 373.10,1041.10 C379.57,1041.20 382.17,1039.95 385.40,1039.20 C388.63,1038.45 390.12,1036.18 392.50,1036.60 C394.88,1037.02 396.63,1040.85 399.70,1041.70 C402.77,1042.55 408.18,1041.02 410.90,1041.70 C413.62,1042.38 413.45,1044.88 416.00,1045.80 C418.55,1046.72 420.42,1046.70 426.20,1047.20 C431.98,1047.70 442.52,1048.70 450.70,1048.80 C458.88,1048.90 468.48,1048.20 475.30,1047.80 C482.12,1047.40 487.68,1047.25 491.60,1046.40 C495.52,1045.55 496.75,1042.70 498.80,1042.70 C500.85,1042.70 499.32,1045.12 503.90,1046.40 C508.48,1047.68 521.20,1050.17 526.30,1050.40 C531.40,1050.63 532.47,1048.85 534.50,1047.80 C536.53,1046.75 536.75,1044.30 538.50,1044.10 C540.25,1043.90 542.50,1045.82 545.00,1046.60 C547.50,1047.38 547.82,1048.52 553.50,1048.80 C559.18,1049.08 570.57,1048.80 579.10,1048.30 C587.63,1047.80 596.87,1046.68 604.70,1045.80 C612.53,1044.92 621.82,1043.37 626.10,1043.00 C630.38,1042.63 625.35,1044.13 630.40,1043.60 C635.45,1043.07 650.00,1041.15 656.40,1039.80 C662.80,1038.45 664.95,1037.00 668.80,1035.50 C672.65,1034.00 677.30,1032.75 679.50,1030.80 C681.70,1028.85 680.93,1024.15 682.00,1023.80 C683.07,1023.45 683.12,1028.70 685.90,1028.70 C688.68,1028.70 695.50,1025.52 698.70,1023.80 C701.90,1022.08 702.97,1021.07 705.10,1018.40 C707.23,1015.73 708.95,1011.92 711.50,1007.80 C714.05,1003.68 716.75,998.68 720.40,993.70 C724.05,988.72 730.15,982.85 733.40,977.90 C736.65,972.95 738.03,970.33 739.90,964.00 C741.77,957.67 743.20,947.95 744.60,939.90 C746.00,931.85 746.75,924.37 748.30,915.70 C749.85,907.03 752.35,895.63 753.90,887.90 C755.45,880.17 756.32,877.88 757.60,869.30 C758.88,860.72 760.47,845.75 761.60,836.40 C762.73,827.05 763.58,818.52 764.40,813.20 C765.22,807.88 765.82,806.53 766.50,804.50 C767.18,802.47 767.95,802.83 768.50,801.00 C769.05,799.17 769.22,794.92 769.80,793.50 C770.38,792.08 770.97,792.32 772.00,792.50 C773.03,792.68 774.72,793.47 776.00,794.60 C777.28,795.73 778.77,797.37 779.70,799.30 C780.63,801.23 780.98,803.10 781.60,806.20 C782.22,809.30 782.63,812.27 783.40,817.90 C784.17,823.53 785.02,828.82 786.20,840.00 C787.38,851.18 788.93,869.28 790.50,885.00 C792.07,900.72 793.97,919.28 795.60,934.30 C797.23,949.32 798.60,963.35 800.30,975.10 C802.00,986.85 803.63,996.75 805.80,1004.80 C807.97,1012.85 810.50,1019.37 813.30,1023.40 C816.10,1027.43 819.82,1027.60 822.60,1029.00 C825.38,1030.40 827.53,1032.12 830.00,1031.80 C832.47,1031.48 835.23,1031.60 837.40,1027.10 C839.57,1022.60 841.13,1014.08 843.00,1004.80 C844.87,995.52 846.75,983.15 848.60,971.40 C850.45,959.65 852.57,946.05 854.10,934.30 C855.63,922.55 856.55,908.33 857.80,900.90 C859.05,893.47 860.35,892.03 861.60,889.70 C862.85,887.37 864.38,886.75 865.30,886.90 C866.22,887.05 866.33,892.60 867.10,890.60 C867.87,888.60 869.12,879.95 869.90,874.90 C870.68,869.85 870.87,864.28 871.80,860.30 C872.73,856.32 874.27,851.00 875.50,851.00 C876.73,851.00 878.18,852.83 879.20,860.30 C880.22,867.77 880.82,880.68 881.60,895.80 C882.38,910.92 883.12,935.22 883.90,951.00 C884.68,966.78 885.37,979.70 886.30,990.50 C887.23,1001.30 888.32,1010.02 889.50,1015.80 C890.68,1021.58 892.08,1025.20 893.40,1025.20 C894.72,1025.20 895.95,1016.07 897.40,1015.80 C898.85,1015.53 900.27,1021.23 902.10,1023.60 C903.93,1025.97 906.43,1028.28 908.40,1030.00 C910.37,1031.72 912.45,1040.48 913.90,1033.90 C915.35,1027.32 916.17,1006.42 917.10,990.50 C918.03,974.58 918.72,938.40 919.50,938.40 C920.28,938.40 920.75,974.45 921.80,990.50 C922.85,1006.55 923.82,1025.10 925.80,1034.70 C927.78,1044.30 930.82,1046.65 933.70,1048.10 C936.58,1049.55 939.95,1044.98 943.10,1043.40 C946.25,1041.82 949.97,1041.10 952.60,1038.60 C955.23,1036.10 957.45,1033.00 958.90,1028.40 C960.35,1023.80 960.25,1012.85 961.30,1011.00 C962.35,1009.15 962.97,1019.67 965.20,1017.30 C967.43,1014.93 972.07,1004.17 974.70,996.80 C977.33,989.43 979.42,982.57 981.00,973.10 C982.58,963.63 983.15,946.57 984.20,940.00 C985.25,933.43 986.25,932.65 987.30,933.70 C988.35,934.75 989.43,946.30 990.50,946.30 C991.57,946.30 992.52,938.17 993.70,933.70 C994.88,929.23 996.30,916.62 997.60,919.50 C998.90,922.38 1000.32,945.22 1001.50,951.00 C1002.68,956.78 1003.12,954.85 1004.70,954.20 C1006.28,953.55 1008.63,947.50 1011.00,947.10 C1013.37,946.70 1016.00,949.97 1018.90,951.80 C1021.80,953.63 1025.50,958.48 1028.40,958.10 C1031.30,957.72 1034.20,954.62 1036.30,949.50 C1038.40,944.38 1040.22,931.08 1041.00,927.40" fill="none" stroke="#c93cab" stroke-width="4.8" stroke-linejoin="round" stroke-linecap="round"/>
<path d="M118.20,1241.30 C122.28,1240.52 134.20,1238.07 142.70,1236.60 C151.20,1235.13 160.68,1233.87 169.20,1232.50 C177.72,1231.13 187.67,1229.42 193.80,1228.40 C199.93,1227.38 203.62,1227.58 206.00,1226.40 C208.38,1225.22 207.08,1221.82 208.10,1221.30 C209.12,1220.78 210.07,1223.47 212.10,1223.30 C214.13,1223.13 217.57,1221.93 220.30,1220.30 C223.03,1218.67 225.10,1215.03 228.50,1213.50 C231.90,1211.97 236.62,1211.92 240.70,1211.10 C244.78,1210.28 248.90,1209.12 253.00,1208.60 C257.10,1208.08 261.22,1207.77 265.30,1208.00 C269.38,1208.23 272.23,1209.15 277.50,1210.00 C282.77,1210.85 290.77,1212.07 296.90,1213.10 C303.03,1214.13 310.45,1215.62 314.30,1216.20 C318.15,1216.78 314.62,1215.87 320.00,1216.60 C325.38,1217.33 337.75,1219.52 346.60,1220.60 C355.45,1221.68 366.63,1223.10 373.10,1223.10 C379.57,1223.10 382.00,1221.42 385.40,1220.60 C388.80,1219.78 390.78,1217.85 393.50,1218.20 C396.22,1218.55 398.80,1222.02 401.70,1222.70 C404.60,1223.38 408.17,1221.90 410.90,1222.30 C413.63,1222.70 411.47,1224.25 418.10,1225.10 C424.73,1225.95 437.08,1226.62 450.70,1227.40 C464.32,1228.18 486.85,1228.82 499.80,1229.80 C512.75,1230.78 519.45,1232.40 528.40,1233.30 C537.35,1234.20 545.07,1234.65 553.50,1235.20 C561.93,1235.75 570.48,1236.37 579.00,1236.60 C587.52,1236.83 599.48,1236.83 604.60,1236.60 C609.72,1236.37 607.50,1234.97 609.70,1235.20 C611.90,1235.43 614.07,1237.60 617.80,1238.00 C621.53,1238.40 628.35,1237.15 632.10,1237.60 C635.85,1238.05 636.20,1239.95 640.30,1240.70 C644.40,1241.45 649.72,1241.93 656.70,1242.10 C663.68,1242.27 674.98,1242.00 682.20,1241.70 C689.42,1241.40 695.48,1241.30 700.00,1240.30 C704.52,1239.30 705.90,1237.40 709.30,1235.70 C712.70,1234.00 716.38,1230.87 720.40,1230.10 C724.42,1229.33 729.68,1231.72 733.40,1231.10 C737.12,1230.48 740.22,1229.65 742.70,1226.40 C745.18,1223.15 746.13,1215.32 748.30,1211.60 C750.47,1207.88 752.92,1206.90 755.70,1204.10 C758.48,1201.30 761.90,1197.27 765.00,1194.80 C768.10,1192.33 772.13,1192.08 774.30,1189.30 C776.47,1186.52 776.83,1182.90 778.00,1178.10 C779.17,1173.30 780.22,1159.57 781.30,1160.50 C782.38,1161.43 783.20,1175.18 784.50,1183.70 C785.80,1192.22 787.40,1205.87 789.10,1211.60 C790.80,1217.33 792.22,1218.10 794.70,1218.10 C797.18,1218.10 799.98,1216.10 804.00,1211.60 C808.02,1207.10 814.78,1197.30 818.80,1191.10 C822.82,1184.90 825.62,1181.82 828.10,1174.40 C830.58,1166.98 832.15,1152.78 833.70,1146.60 C835.25,1140.42 835.85,1139.78 837.40,1137.30 C838.95,1134.82 841.13,1135.42 843.00,1131.70 C844.87,1127.98 847.05,1122.43 848.60,1115.00 C850.15,1107.57 851.07,1097.93 852.30,1087.10 C853.53,1076.27 854.77,1060.92 856.00,1050.00 C857.23,1039.08 858.53,1028.20 859.70,1021.60 C860.87,1015.00 861.77,1008.87 863.00,1010.40 C864.23,1011.93 865.02,1034.20 867.10,1030.80 C869.18,1027.40 873.17,992.17 875.50,990.00 C877.83,987.83 879.55,1006.13 881.10,1017.80 C882.65,1029.47 883.88,1047.82 884.80,1060.00 C885.72,1072.18 885.83,1078.63 886.60,1090.90 C887.37,1103.17 888.55,1121.22 889.40,1133.60 C890.25,1145.98 890.48,1162.45 891.70,1165.20 C892.92,1167.95 894.75,1150.93 896.70,1150.10 C898.65,1149.27 901.17,1155.45 903.40,1160.20 C905.63,1164.95 907.58,1172.75 910.10,1178.60 C912.62,1184.45 916.55,1189.18 918.50,1195.30 C920.45,1201.42 920.27,1210.57 921.80,1215.30 C923.33,1220.03 925.75,1220.63 927.70,1223.70 C929.65,1226.77 931.55,1231.05 933.50,1233.70 C935.45,1236.35 937.17,1239.47 939.40,1239.60 C941.63,1239.73 944.53,1236.60 946.90,1234.50 C949.27,1232.40 951.37,1231.58 953.60,1227.00 C955.83,1222.42 958.08,1215.35 960.30,1207.00 C962.52,1198.65 964.40,1188.33 966.90,1176.90 C969.40,1165.47 973.10,1152.23 975.30,1138.40 C977.50,1124.57 978.83,1105.97 980.10,1093.90 C981.37,1081.83 982.25,1074.00 982.90,1066.00 C983.55,1058.00 983.35,1047.77 984.00,1045.90 C984.65,1044.03 986.05,1056.65 986.80,1054.80 C987.55,1052.95 987.57,1036.10 988.50,1034.80 C989.43,1033.50 991.38,1047.38 992.40,1047.00 C993.42,1046.62 993.77,1039.57 994.60,1032.50 C995.43,1025.43 996.47,1007.38 997.40,1004.60 C998.33,1001.82 999.08,1012.82 1000.20,1015.80 C1001.32,1018.78 1002.62,1026.03 1004.10,1022.50 C1005.58,1018.97 1007.33,997.95 1009.10,994.60 C1010.87,991.25 1013.03,997.57 1014.70,1002.40 C1016.37,1007.23 1017.62,1022.48 1019.10,1023.60 C1020.58,1024.72 1021.92,1010.03 1023.60,1009.10 C1025.28,1008.17 1027.72,1020.98 1029.20,1018.00 C1030.68,1015.02 1031.20,996.03 1032.50,991.20 C1033.80,986.37 1036.07,983.05 1037.00,989.00 C1037.93,994.95 1037.63,1032.57 1038.10,1026.90 C1038.57,1021.23 1039.33,947.55 1039.80,955.00 C1040.27,962.45 1040.72,1052.17 1040.90,1071.60" fill="none" stroke="#c1141f" stroke-width="4.8" stroke-linejoin="round" stroke-linecap="round"/>
<path d="M118.20,1289.10 C122.28,1289.03 134.20,1288.83 142.70,1288.70 C151.20,1288.57 162.40,1288.63 169.20,1288.30 C176.00,1287.97 179.07,1287.82 183.50,1286.70 C187.93,1285.58 192.38,1284.17 195.80,1281.60 C199.22,1279.03 202.13,1276.25 204.00,1271.30 C205.87,1266.35 206.15,1256.15 207.00,1251.90 C207.85,1247.65 208.42,1244.43 209.10,1245.80 C209.78,1247.17 209.92,1255.00 211.10,1260.10 C212.28,1265.20 214.50,1273.50 216.20,1276.40 C217.90,1279.30 218.57,1278.00 221.30,1277.50 C224.03,1277.00 228.62,1274.67 232.60,1273.40 C236.58,1272.13 241.12,1270.92 245.20,1269.90 C249.28,1268.88 253.42,1267.85 257.10,1267.30 C260.78,1266.75 263.55,1266.43 267.30,1266.60 C271.05,1266.77 274.67,1267.33 279.60,1268.30 C284.53,1269.27 291.12,1271.22 296.90,1272.40 C302.68,1273.58 310.45,1274.67 314.30,1275.40 C318.15,1276.13 314.62,1276.05 320.00,1276.80 C325.38,1277.55 337.75,1279.12 346.60,1279.90 C355.45,1280.68 366.63,1281.85 373.10,1281.50 C379.57,1281.15 382.00,1279.08 385.40,1277.80 C388.80,1276.52 390.78,1273.45 393.50,1273.80 C396.22,1274.15 398.80,1279.15 401.70,1279.90 C404.60,1280.65 408.17,1277.68 410.90,1278.30 C413.63,1278.92 411.47,1282.48 418.10,1283.60 C424.73,1284.72 437.08,1284.53 450.70,1285.00 C464.32,1285.47 486.85,1285.88 499.80,1286.40 C512.75,1286.92 522.28,1287.48 528.40,1288.10 C534.52,1288.72 532.32,1290.07 536.50,1290.10 C540.68,1290.13 542.15,1288.53 553.50,1288.30 C564.85,1288.07 587.40,1288.37 604.60,1288.70 C621.80,1289.03 643.77,1290.13 656.70,1290.30 C669.63,1290.47 674.98,1290.13 682.20,1289.70 C689.42,1289.27 695.80,1288.18 700.00,1287.70 C704.20,1287.22 704.30,1287.88 707.40,1286.80 C710.50,1285.72 714.27,1282.90 718.60,1281.20 C722.93,1279.50 729.07,1277.83 733.40,1276.60 C737.73,1275.37 740.88,1275.67 744.60,1273.80 C748.32,1271.93 752.30,1268.35 755.70,1265.40 C759.10,1262.45 761.90,1258.12 765.00,1256.10 C768.10,1254.08 771.82,1254.22 774.30,1253.30 C776.78,1252.38 778.05,1249.52 779.90,1250.60 C781.75,1251.68 783.23,1254.70 785.40,1259.80 C787.57,1264.90 790.42,1277.02 792.90,1281.20 C795.38,1285.38 797.22,1285.22 800.30,1284.90 C803.38,1284.58 807.07,1281.32 811.40,1279.30 C815.73,1277.28 821.97,1275.43 826.30,1272.80 C830.63,1270.17 833.68,1267.52 837.40,1263.50 C841.12,1259.48 845.50,1253.65 848.60,1248.70 C851.70,1243.75 854.15,1237.20 856.00,1233.80 C857.85,1230.40 858.15,1229.07 859.70,1228.30 C861.25,1227.53 863.58,1230.25 865.30,1229.20 C867.02,1228.15 868.38,1223.62 870.00,1222.00 C871.62,1220.38 873.33,1218.67 875.00,1219.50 C876.67,1220.33 878.33,1222.97 880.00,1227.00 C881.67,1231.03 883.32,1237.57 885.00,1243.70 C886.68,1249.83 888.57,1259.33 890.10,1263.80 C891.63,1268.27 892.53,1269.95 894.20,1270.50 C895.87,1271.05 896.88,1266.40 900.10,1267.10 C903.32,1267.80 910.43,1274.00 913.50,1274.70 C916.57,1275.40 917.12,1270.47 918.50,1271.30 C919.88,1272.13 919.85,1277.33 921.80,1279.70 C923.75,1282.07 927.42,1283.97 930.20,1285.50 C932.98,1287.03 935.43,1289.03 938.50,1288.90 C941.57,1288.77 944.42,1287.22 948.60,1284.70 C952.78,1282.18 958.87,1278.40 963.60,1273.80 C968.33,1269.20 973.93,1261.55 977.00,1257.10 C980.07,1252.65 980.62,1250.43 982.00,1247.10 C983.38,1243.77 983.92,1239.62 985.30,1237.10 C986.68,1234.58 988.20,1234.80 990.30,1232.00 C992.40,1229.20 995.67,1221.27 997.90,1220.30 C1000.13,1219.33 1001.62,1225.92 1003.70,1226.20 C1005.78,1226.48 1008.17,1221.72 1010.40,1222.00 C1012.63,1222.28 1014.87,1226.23 1017.10,1227.90 C1019.33,1229.57 1021.30,1232.00 1023.80,1232.00 C1026.30,1232.00 1029.60,1229.15 1032.10,1227.90 C1034.60,1226.65 1037.40,1223.25 1038.80,1224.50 C1040.20,1225.75 1040.22,1233.58 1040.50,1235.40" fill="none" stroke="#2b3590" stroke-width="4.8" stroke-linejoin="round" stroke-linecap="round"/>
<text x="133" y="74" class="big">(a)</text>
<text x="217.5" y="75.3" class="m">Dried green leaves</text>
<text x="784" y="61.8" class="m">Catha Edulis, Leaves</text>
<text x="242.5" y="357.2" class="m">600<tspan dx="-1.2"> °</tspan>C</text>
<text x="242.5" y="440.3" class="m">700 °C</text>
<text x="242.5" y="580.3" class="m">800 °C</text>
<text x="130.8" y="787" class="big">(b)</text>
<text x="450" y="809" class="m">Dried green leaves</text>
<text x="870.5" y="773.8" class="m">Basil, Leaves</text>
<text x="239" y="1007.7" class="m">600<tspan dx="-1.2"> °</tspan>C</text>
<text x="259.5" y="1193.8" class="m">700 °C</text>
<text x="239" y="1256.7" class="m">800 °C</text>
<text transform="translate(53.5,359.4) rotate(-90)" text-anchor="middle" class="L">Absorbance, a.u</text>
<text transform="translate(55.2,1033.3) rotate(-90)" text-anchor="middle" class="L">Absorbance, a.u</text>
<text x="453.5" y="706.6" class="L">Wavenumber, cm<tspan dx="-0.5" dy="-15" font-size="18">-1</tspan></text>
<text x="452.3" y="1423" class="L">Wavenumber, cm<tspan dx="-0.5" dy="-15" font-size="18">-1</tspan></text>
</svg></body></html>
